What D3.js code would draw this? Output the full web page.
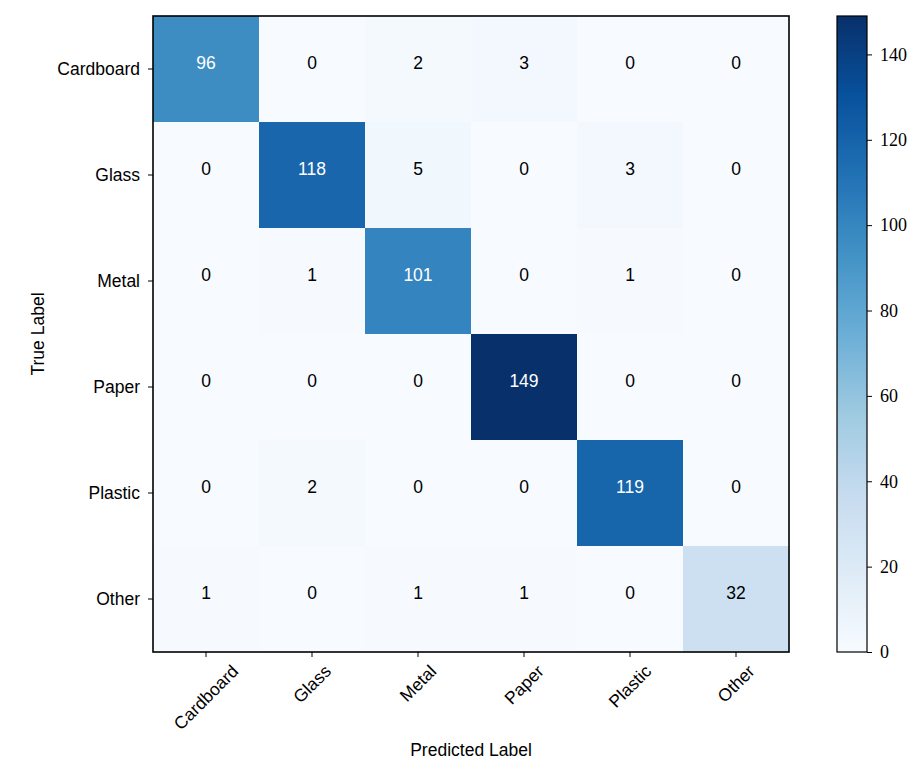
<!DOCTYPE html>
<html>
<head>
<meta charset="utf-8">
<script src="https://cdn.jsdelivr.net/npm/d3@7"></script>
<style>
  body { margin: 0; background: #fff; }
  text { font-family: "Liberation Sans", Arial, sans-serif; }
</style>
</head>
<body>
<div id="chart"></div>
<script>
const classes = ["Cardboard", "Glass", "Metal", "Paper", "Plastic", "Other"];
// rows = true label, cols = predicted label
const counts = [
  [96, 0, 2, 3, 0, 0],
  [0, 118, 5, 0, 3, 0],
  [0, 1, 101, 0, 1, 0],
  [0, 0, 0, 149, 0, 0],
  [0, 2, 0, 0, 119, 0],
  [1, 0, 1, 1, 0, 32]
];
const cbarTicks = [0, 20, 40, 60, 80, 100, 120, 140];
// matplotlib "Blues" anchor colours
const bluesStops = ["#f7fbff", "#deebf7", "#c6dbef", "#9ecae1", "#6baed6",
                    "#4292c6", "#2171b5", "#08519c", "#08306b"];

const width = 917, height = 779;
const mLeft = 153, mTop = 16, size = 636;
const vmax = d3.max(counts.flat());

const svg = d3.select("#chart").append("svg")
  .attr("width", width).attr("height", height);

const x = d3.scaleBand().domain(classes).range([mLeft, mLeft + size]);
const y = d3.scaleBand().domain(classes).range([mTop, mTop + size]);

const color = d3.scaleLinear()
  .domain(bluesStops.map((d, i) => vmax * i / (bluesStops.length - 1)))
  .range(bluesStops)
  .interpolate(d3.interpolateRgb);

const cells = [];
counts.forEach((row, i) => row.forEach((v, j) => cells.push({ t: classes[i], p: classes[j], v })));

svg.append("g").selectAll("rect").data(cells).enter().append("rect")
  .attr("x", d => x(d.p)).attr("y", d => y(d.t))
  .attr("width", x.bandwidth() + 0.5).attr("height", y.bandwidth() + 0.5)
  .attr("fill", d => color(d.v));

svg.append("g").selectAll("text").data(cells).enter().append("text")
  .attr("x", d => x(d.p) + x.bandwidth() / 2)
  .attr("y", d => y(d.t) + y.bandwidth() / 2 - 6)
  .attr("text-anchor", "middle")
  .attr("dominant-baseline", "central")
  .style("font-size", "17.5px")
  .attr("fill", d => d.v > vmax / 2 ? "#fff" : "#000")
  .text(d => d.v);

svg.append("rect")
  .attr("x", mLeft).attr("y", mTop).attr("width", size).attr("height", size)
  .attr("fill", "none").attr("stroke", "#000").attr("stroke-width", 1.6);

// axes
const xAxis = svg.append("g")
  .attr("transform", `translate(0,${mTop + size})`)
  .call(d3.axisBottom(x).tickSize(5));
xAxis.select(".domain").remove();
// rotated labels, centred under the tick (matplotlib ha="center")
xAxis.selectAll("text")
  .style("font-size", "17.5px").attr("fill", "#000")
  .attr("text-anchor", "middle")
  .attr("dy", null).attr("y", null)
  .attr("dominant-baseline", "central")
  .each(function () {
    const w = this.getComputedTextLength(), h = 17.5;
    const half = (w + h) / (2 * Math.SQRT2);
    d3.select(this).attr("transform", `translate(0,${10 + half}) rotate(-45)`);
  });

const yAxis = svg.append("g")
  .attr("transform", `translate(${mLeft},0)`)
  .call(d3.axisLeft(y).tickSize(5).tickPadding(8));
yAxis.select(".domain").remove();
yAxis.selectAll("text").style("font-size", "17.5px").attr("fill", "#000");

svg.append("text")
  .attr("x", mLeft + size / 2).attr("y", 756)
  .attr("text-anchor", "middle").style("font-size", "17.5px")
  .text("Predicted Label");

svg.append("text")
  .attr("transform", `translate(44,${mTop + size / 2}) rotate(-90)`)
  .attr("text-anchor", "middle").style("font-size", "17.5px")
  .text("True Label");

// colorbar
const cbX = 837, cbW = 30;
const cbScale = d3.scaleLinear().domain([0, vmax]).range([mTop + size, mTop]);
const defs = svg.append("defs");
const grad = defs.append("linearGradient").attr("id", "cbgrad")
  .attr("x1", 0).attr("y1", 1).attr("x2", 0).attr("y2", 0);
grad.selectAll("stop").data(bluesStops).enter().append("stop")
  .attr("offset", (d, i) => i / (bluesStops.length - 1))
  .attr("stop-color", d => d);

svg.append("rect")
  .attr("x", cbX).attr("y", mTop).attr("width", cbW).attr("height", size)
  .attr("fill", "url(#cbgrad)").attr("stroke", "#000").attr("stroke-width", 1.2);

const cbAxis = svg.append("g")
  .attr("transform", `translate(${cbX + cbW},0)`)
  .call(d3.axisRight(cbScale).tickValues(cbarTicks).tickSize(5).tickPadding(8));
cbAxis.select(".domain").remove();
cbAxis.selectAll("text")
  .style("font-family", "'Liberation Serif', 'DejaVu Serif', serif")
  .style("font-size", "18px").attr("fill", "#000");
</script>
</body>
</html>
